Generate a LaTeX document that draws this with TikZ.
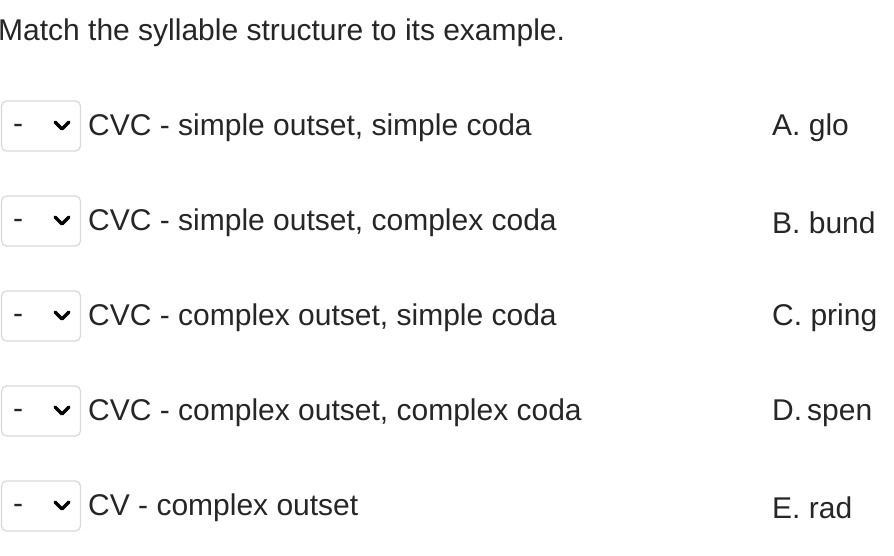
\documentclass[tikz,border=0pt]{standalone}
\usepackage{fontspec}
\setmainfont{Liberation Sans}
\begin{document}
\begin{tikzpicture}[x=1pt,y=-1pt,
  txt/.style={anchor=west,inner sep=0pt,font=\fontsize{30}{33}\selectfont,text=black!85},
  dd/.style={draw=black!15,line width=1.2pt,rounded corners=5pt,minimum width=79pt,minimum height=50pt,inner sep=0pt},
  chev/.style={line width=3.5pt,line cap=round,line join=round}]
\useasboundingbox[fill=white] (0,0) rectangle (894,556);
\node[txt] (title) at (-2,33) {Match the syllable structure to its example.};
\foreach \y/\l/\r/\n in {126/{CVC - simple outset, simple coda}/{A. glo}/1,
  221/{CVC - simple outset, complex coda}/{B. bund}/2,
  316/{CVC - complex outset, simple coda}/{C. pring}/3,
  411/{CVC - complex outset, complex coda}/{D.\,spen}/4,
  506/{CV - complex outset}/{E. rad}/5}{
  \node[dd] (b\n) at (41,\y) {};
  \node[txt] (d\n) at (13,\y+3) {-};
  \draw[chev] (55,\y-4) -- (62,\y+3) -- (69,\y-4);
  \node[txt] (l\n) at (88,\y+2) {\l};
  \node[txt] (r\n) at (772,\y+2) {\r};
}
\end{tikzpicture}
\end{document}
